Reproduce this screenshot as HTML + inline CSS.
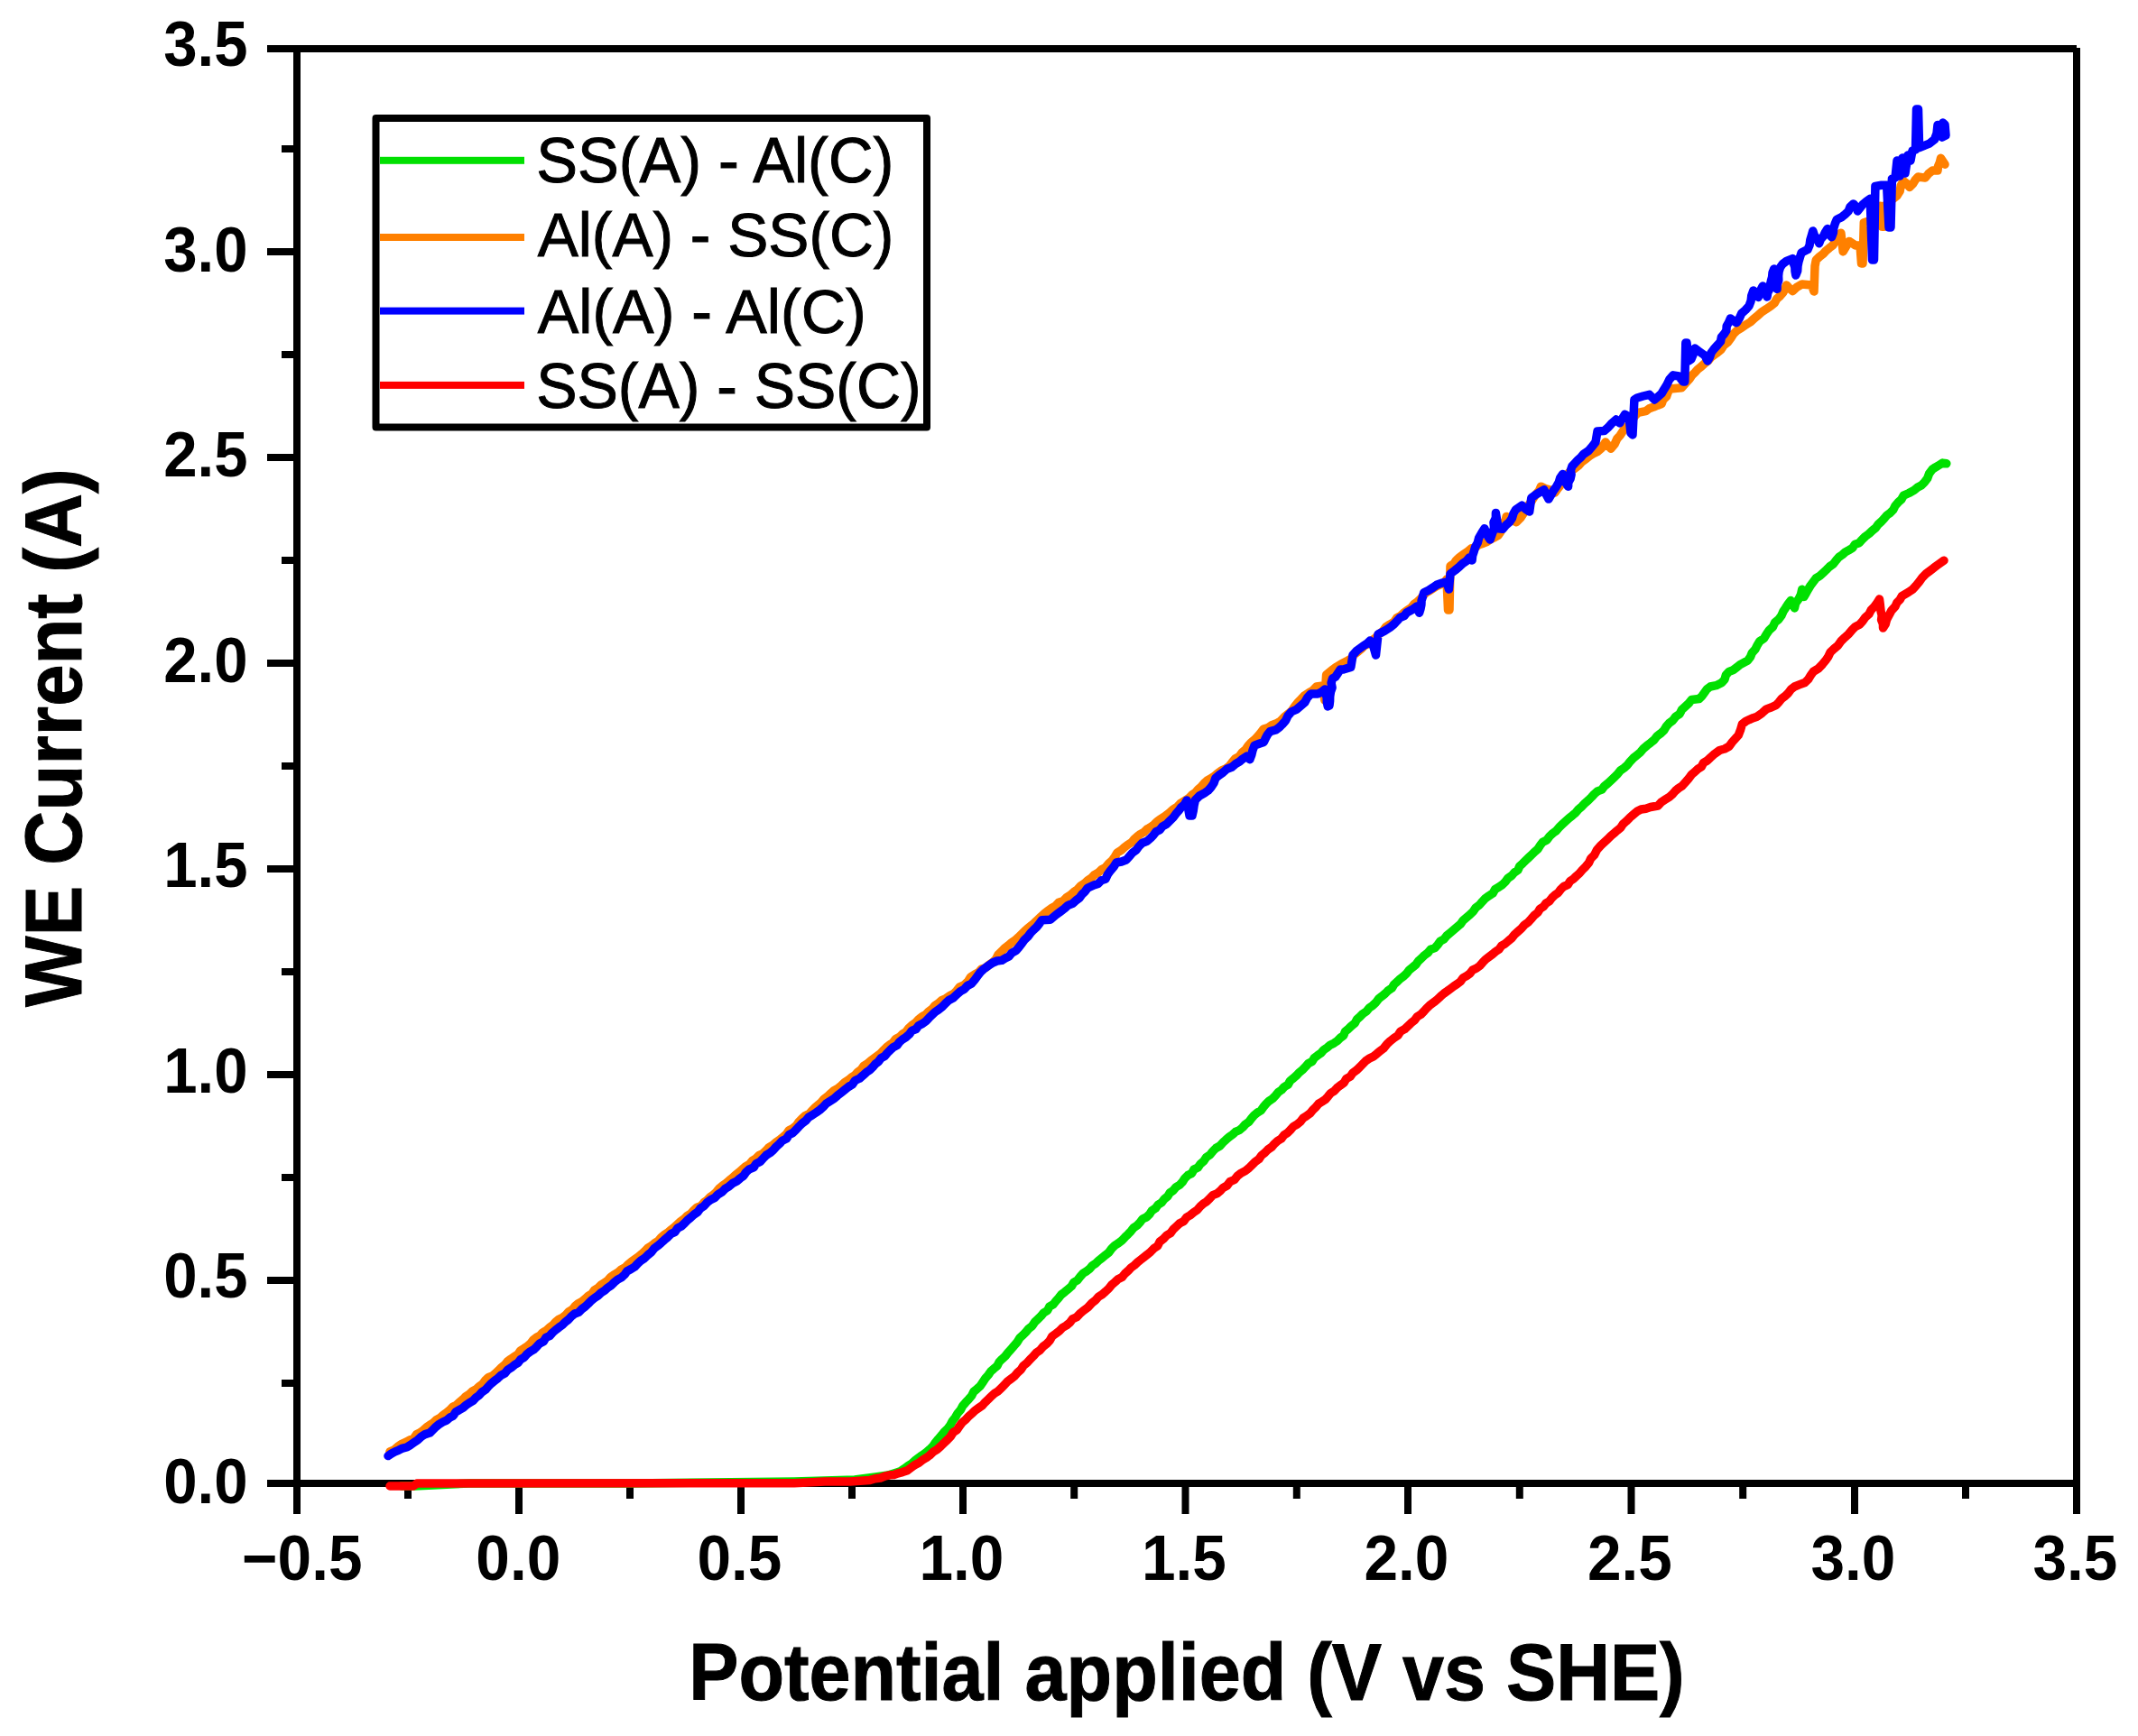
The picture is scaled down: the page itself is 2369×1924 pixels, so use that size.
<!DOCTYPE html>
<html><head><meta charset="utf-8"><title>WE Current vs Potential</title>
<style>html,body{margin:0;padding:0;background:#fff;}svg{display:block;}</style>
</head><body>
<svg xmlns="http://www.w3.org/2000/svg" width="2369" height="1924" viewBox="0 0 2369 1924">
<rect x="0" y="0" width="2369" height="1924" fill="#fff"/>
<g fill="#000">
<rect x="325" y="50" width="8" height="1628"/>
<rect x="296" y="1640" width="2009" height="8"/>
<rect x="296" y="50" width="2005" height="8"/>
<rect x="2297" y="53" width="8" height="1625"/>
<rect x="296" y="1415.0" width="30" height="8"/>
<rect x="296" y="1187.0" width="30" height="8"/>
<rect x="296" y="959.0" width="30" height="8"/>
<rect x="296" y="731.0" width="30" height="8"/>
<rect x="296" y="503.0" width="30" height="8"/>
<rect x="296" y="275.0" width="30" height="8"/>
<rect x="312" y="1529.0" width="14" height="8"/>
<rect x="312" y="1301.0" width="14" height="8"/>
<rect x="312" y="1073.0" width="14" height="8"/>
<rect x="312" y="845.0" width="14" height="8"/>
<rect x="312" y="617.0" width="14" height="8"/>
<rect x="312" y="389.0" width="14" height="8"/>
<rect x="312" y="161.0" width="14" height="8"/>
<rect x="571.0" y="1647" width="8" height="31"/>
<rect x="817.0" y="1647" width="8" height="31"/>
<rect x="1063.0" y="1647" width="8" height="31"/>
<rect x="1309.5" y="1647" width="8" height="31"/>
<rect x="1556.0" y="1647" width="8" height="31"/>
<rect x="1803.5" y="1647" width="8" height="31"/>
<rect x="2051.0" y="1647" width="8" height="31"/>
<rect x="448.0" y="1647" width="8" height="14"/>
<rect x="694.0" y="1647" width="8" height="14"/>
<rect x="940.0" y="1647" width="8" height="14"/>
<rect x="1186.2" y="1647" width="8" height="14"/>
<rect x="1432.8" y="1647" width="8" height="14"/>
<rect x="1679.8" y="1647" width="8" height="14"/>
<rect x="1927.2" y="1647" width="8" height="14"/>
<rect x="2174.0" y="1647" width="8" height="14"/>
</g>
<path d="M445.0,1647.0 459.0,1647.0 480.0,1646.0 520.0,1644.0 700.0,1644.0 880.0,1642.0 947.0,1640.0 970.0,1637.0 984.0,1635.0 988.7,1633.5 993.4,1632.2 998.0,1630.5 1002.0,1627.7 1005.9,1624.8 1010.0,1622.2 1013.8,1618.8 1017.8,1615.6 1022.0,1612.8 1026.1,1609.8 1030.0,1606.5 1033.6,1602.9 1036.5,1598.7 1039.7,1594.8 1043.1,1591.0 1046.3,1587.0 1050.0,1583.5 1052.9,1579.4 1055.3,1574.9 1058.5,1570.9 1061.0,1566.5 1064.3,1562.7 1066.7,1558.1 1070.0,1554.3 1073.4,1550.7 1076.6,1547.0 1078.8,1542.5 1082.6,1539.3 1086.3,1535.9 1089.1,1531.8 1091.8,1527.7 1095.0,1524.0 1097.7,1520.1 1101.2,1516.9 1104.9,1513.9 1107.1,1509.5 1110.4,1506.2 1113.9,1503.0 1116.8,1499.3 1120.0,1495.8 1123.5,1491.6 1127.1,1487.5 1130.0,1482.8 1133.6,1479.5 1136.9,1476.1 1140.0,1472.4 1143.8,1469.4 1146.5,1465.3 1150.0,1462.0 1153.4,1458.7 1156.4,1455.0 1160.6,1452.5 1162.8,1448.1 1167.1,1445.6 1170.0,1441.9 1173.2,1438.3 1176.2,1434.6 1180.0,1431.7 1183.7,1428.6 1187.3,1425.5 1189.8,1421.3 1194.0,1418.7 1196.9,1414.9 1200.0,1411.3 1204.0,1408.9 1207.6,1406.0 1210.6,1402.4 1214.5,1399.9 1217.8,1396.7 1221.5,1393.9 1225.0,1390.9 1228.8,1387.9 1231.7,1383.9 1235.2,1380.4 1239.3,1377.7 1243.2,1374.7 1246.5,1371.2 1250.0,1367.8 1253.2,1364.4 1256.1,1360.7 1260.0,1358.1 1263.2,1354.8 1266.0,1351.0 1270.5,1348.9 1273.8,1345.6 1276.4,1341.7 1280.4,1339.1 1283.2,1335.3 1287.2,1332.8 1290.0,1329.0 1293.7,1326.1 1296.2,1322.0 1300.1,1319.3 1303.0,1315.7 1307.1,1313.2 1310.3,1309.9 1312.9,1305.8 1316.2,1302.6 1320.5,1300.4 1322.9,1296.1 1327.3,1294.0 1330.0,1290.1 1333.8,1286.9 1336.6,1282.7 1340.7,1279.9 1343.8,1276.0 1347.3,1272.5 1351.7,1270.0 1355.0,1266.3 1358.4,1263.2 1361.9,1260.2 1365.6,1257.5 1369.0,1254.4 1373.4,1252.5 1376.9,1249.5 1380.0,1246.0 1383.8,1243.3 1386.6,1239.6 1389.6,1236.1 1393.2,1233.1 1397.2,1230.7 1399.9,1226.9 1402.9,1223.4 1406.2,1220.2 1410.1,1217.6 1413.3,1214.3 1416.2,1210.7 1420.0,1208.0 1423.1,1204.5 1427.2,1202.1 1429.5,1197.9 1433.1,1195.0 1436.6,1191.9 1439.7,1188.6 1443.3,1185.6 1446.5,1182.3 1449.5,1178.8 1453.8,1176.6 1456.3,1172.5 1460.0,1169.7 1463.7,1167.1 1466.7,1163.6 1470.4,1161.1 1473.9,1158.2 1478.0,1156.2 1481.8,1153.6 1485.0,1150.4 1488.7,1147.6 1490.6,1143.1 1494.2,1140.2 1497.5,1137.0 1501.2,1134.1 1503.4,1129.9 1506.8,1126.9 1510.0,1123.6 1514.1,1120.9 1517.1,1117.1 1521.1,1114.3 1524.6,1111.0 1527.5,1107.1 1531.3,1104.1 1535.0,1101.0 1538.3,1097.7 1542.3,1095.1 1544.7,1091.0 1548.3,1087.9 1551.6,1084.7 1555.4,1081.9 1558.8,1078.6 1561.6,1074.9 1565.3,1072.0 1568.9,1069.0 1571.6,1065.1 1575.1,1062.0 1578.4,1058.7 1582.2,1055.9 1585.2,1052.3 1589.9,1050.6 1593.0,1047.1 1595.9,1043.2 1600.0,1040.9 1603.1,1037.0 1606.9,1033.8 1610.7,1030.6 1614.5,1027.4 1618.3,1024.2 1621.2,1020.1 1625.0,1016.9 1628.8,1013.7 1632.4,1010.2 1635.2,1006.0 1639.2,1003.0 1642.5,999.2 1645.9,995.6 1650.0,992.7 1654.1,990.1 1656.6,985.7 1660.8,983.2 1664.7,980.5 1668.1,977.1 1671.0,973.2 1675.0,970.5 1678.0,967.0 1681.9,964.4 1683.8,960.0 1687.2,956.9 1690.5,953.7 1693.8,950.5 1697.1,947.3 1700.4,944.1 1703.9,941.1 1706.4,937.2 1709.5,933.2 1714.0,930.9 1717.0,926.9 1720.6,923.5 1724.6,920.6 1727.8,916.7 1731.4,913.3 1735.0,910.0 1738.6,906.7 1742.4,903.7 1746.1,900.6 1749.2,896.8 1753.0,893.6 1756.3,890.1 1760.0,886.9 1763.4,883.5 1766.6,880.0 1770.2,876.9 1774.9,875.1 1777.8,871.2 1781.5,868.2 1785.0,865.0 1788.7,861.6 1792.2,857.9 1795.4,854.0 1799.6,851.1 1803.4,847.7 1806.5,843.7 1810.0,840.0 1813.9,836.8 1817.8,833.6 1821.1,829.6 1824.9,826.3 1829.0,823.2 1832.9,820.0 1835.9,816.0 1840.0,812.9 1843.7,809.5 1846.3,805.1 1849.6,801.3 1853.7,798.3 1856.8,794.1 1861.2,791.2 1863.6,786.5 1867.4,783.0 1871.2,779.5 1874.4,775.5 1882.7,774.5 1886.0,771.3 1888.7,767.5 1891.4,763.8 1895.1,761.0 1901.6,759.7 1907.6,756.8 1911.0,753.1 1912.4,748.0 1915.9,744.4 1920.4,742.6 1924.4,739.7 1928.1,736.6 1932.3,734.3 1936.6,732.0 1939.5,728.1 1941.4,723.4 1944.8,719.8 1947.0,715.4 1949.8,710.7 1954.5,707.6 1957.3,702.9 1960.3,698.5 1964.3,694.9 1966.6,689.9 1970.8,686.5 1973.9,682.2 1975.9,677.7 1978.6,673.6 1981.2,669.4 1984.3,665.6 1986.5,669.7 1988.4,673.9 1989.7,668.4 1993.1,663.8 1995.5,658.7 1996.7,653.2 1998.8,661.5 2001.3,657.3 2003.7,653.0 2006.2,648.8 2009.2,644.9 2012.2,640.9 2016.4,638.3 2020.0,635.0 2023.6,631.6 2027.2,628.0 2031.3,625.1 2034.4,621.1 2037.5,617.5 2041.3,614.9 2044.7,611.9 2048.8,609.6 2052.8,607.2 2055.5,603.2 2060.1,601.7 2063.2,598.1 2066.9,594.5 2071.0,591.5 2074.7,588.0 2078.4,585.0 2081.2,581.1 2084.8,577.9 2087.9,574.5 2090.8,571.0 2094.6,568.3 2097.8,565.0 2100.0,560.5 2103.2,556.8 2106.9,553.4 2109.3,549.1 2115.2,546.5 2120.8,543.4 2124.5,540.3 2128.8,538.1 2132.3,534.7 2135.7,530.2 2137.6,524.8 2141.0,520.3 2144.7,517.8 2148.6,515.5 2152.5,513.1 2156.8,513.8" fill="none" stroke="#00e000" stroke-width="9.5" stroke-linejoin="round" stroke-linecap="round"/>
<path d="M432.0,1608.9 436.8,1606.8 440.8,1603.2 445.2,1600.3 450.0,1598.2 454.6,1595.7 458.7,1593.7 461.5,1589.8 465.5,1587.7 469.1,1585.0 472.5,1581.9 476.2,1579.3 480.0,1576.9 483.4,1573.7 487.5,1571.5 491.0,1568.4 494.8,1565.7 498.4,1562.7 501.6,1559.3 505.8,1557.2 509.2,1553.9 512.8,1551.0 516.1,1547.7 520.0,1545.1 523.4,1541.9 527.6,1539.7 531.0,1536.6 534.8,1533.8 537.6,1529.9 541.0,1526.7 545.5,1524.9 549.1,1522.0 552.5,1518.8 555.8,1515.4 559.4,1512.5 562.4,1508.9 566.1,1506.1 570.0,1503.5 573.9,1501.0 576.5,1497.0 580.5,1494.6 584.4,1492.1 587.8,1489.0 590.6,1485.3 594.2,1482.5 598.3,1480.2 601.4,1476.8 605.5,1474.5 608.8,1471.3 612.5,1468.6 615.6,1465.2 619.2,1462.3 623.4,1460.2 626.9,1457.3 630.0,1453.8 634.1,1451.4 637.1,1447.7 640.7,1444.7 644.9,1442.5 648.5,1439.5 651.9,1436.3 655.9,1433.8 658.7,1429.8 662.7,1427.4 666.0,1424.0 670.0,1421.5 673.8,1418.7 676.9,1415.1 680.8,1412.5 684.9,1410.0 688.5,1406.9 692.7,1404.7 696.0,1401.3 699.6,1398.3 703.4,1395.6 707.3,1392.9 710.9,1389.9 714.4,1386.7 717.7,1383.3 721.7,1380.8 725.3,1377.8 729.4,1375.3 732.5,1371.6 736.0,1368.5 740.0,1366.0 743.6,1362.9 747.3,1360.0 750.8,1356.8 754.3,1353.6 758.1,1350.8 761.5,1347.5 765.6,1344.9 768.7,1341.4 772.2,1338.1 776.9,1336.4 780.0,1332.7 783.7,1330.0 786.8,1326.6 790.7,1324.0 794.0,1320.8 796.9,1317.1 800.5,1314.2 804.2,1311.5 807.7,1308.5 811.5,1305.5 815.0,1302.2 818.8,1299.2 822.4,1296.0 826.0,1292.9 830.3,1290.5 833.4,1286.6 837.5,1284.1 840.9,1280.6 845.3,1278.5 848.8,1275.1 852.1,1271.5 856.3,1269.1 860.0,1266.0 864.0,1263.2 867.7,1260.1 871.4,1256.9 874.2,1252.8 878.7,1250.5 882.4,1247.4 885.2,1243.3 888.6,1239.8 892.2,1236.5 896.8,1234.4 900.0,1230.7 903.1,1227.4 906.7,1224.6 910.1,1221.6 913.0,1218.1 916.7,1215.4 920.0,1212.3 923.7,1208.9 928.2,1206.4 932.1,1203.3 935.8,1199.8 940.0,1197.0 943.5,1194.0 947.5,1191.5 950.6,1188.0 954.3,1185.2 957.1,1181.3 961.1,1178.9 964.6,1175.9 968.3,1173.1 972.0,1170.3 975.7,1167.5 978.9,1164.1 982.2,1160.8 985.8,1157.9 989.6,1155.3 992.4,1151.4 996.7,1149.3 1000.0,1146.0 1004.1,1143.4 1007.0,1139.4 1010.5,1136.2 1014.5,1133.5 1017.7,1129.9 1021.4,1126.9 1025.7,1124.5 1029.0,1121.0 1032.9,1118.2 1035.9,1114.4 1040.0,1111.8 1043.6,1108.5 1048.2,1106.5 1052.2,1103.8 1056.5,1101.5 1060.0,1098.0 1063.4,1093.8 1068.6,1091.5 1072.5,1087.7 1075.4,1083.0 1080.0,1080.0 1084.3,1077.7 1087.6,1074.0 1092.3,1072.4 1095.9,1069.2 1100.0,1066.6 1103.7,1062.7 1106.1,1057.9 1110.0,1054.2 1113.3,1050.7 1117.2,1047.8 1120.9,1044.7 1124.9,1042.0 1128.4,1038.8 1131.9,1035.4 1135.3,1032.0 1138.9,1028.8 1142.7,1025.9 1146.3,1022.7 1149.8,1019.3 1153.3,1016.0 1156.9,1012.8 1160.7,1009.8 1164.8,1006.7 1169.4,1004.2 1172.9,1000.3 1178.1,998.6 1181.7,994.8 1186.0,992.0 1189.7,988.7 1193.8,985.8 1197.1,982.0 1201.3,979.4 1205.0,976.0 1209.1,973.2 1212.6,969.6 1217.0,967.1 1220.6,963.7 1225.0,961.3 1228.3,957.3 1232.2,953.7 1235.3,949.5 1238.0,945.0 1242.3,942.4 1246.0,939.0 1250.0,936.0 1253.9,933.7 1256.8,930.1 1260.2,927.1 1263.8,924.3 1267.8,922.1 1271.0,918.9 1275.0,916.7 1278.6,913.9 1281.9,910.8 1285.5,908.0 1289.4,905.6 1293.1,903.0 1296.6,900.1 1300.0,897.0 1304.4,894.2 1308.1,890.3 1312.6,887.6 1317.0,884.8 1320.7,881.0 1324.6,878.4 1327.6,874.9 1331.1,871.9 1334.1,868.3 1337.5,865.1 1341.5,862.7 1345.8,860.1 1349.5,856.8 1353.6,853.9 1358.3,852.0 1362.2,848.8 1365.3,844.8 1368.5,840.9 1373.2,838.3 1376.1,834.2 1380.0,830.9 1382.9,826.7 1386.3,822.9 1390.2,819.7 1393.7,816.0 1397.0,812.1 1400.0,808.0 1404.9,806.6 1409.1,803.8 1413.8,802.0 1419.0,799.0 1423.0,794.7 1427.6,791.0 1431.6,787.5 1434.6,783.0 1437.8,778.8 1441.5,775.0 1445.3,770.9 1450.0,767.9 1454.9,765.1 1458.7,761.0 1466.0,760.0 1467.8,776.0 1469.6,748.0 1476.0,742.6 1481.1,739.0 1486.4,735.7 1491.7,733.1 1496.8,730.2 1500.4,725.6 1505.0,722.0 1508.6,718.9 1512.0,715.4 1516.7,713.6 1520.0,710.0 1524.3,706.7 1528.0,702.8 1532.3,699.5 1535.5,695.0 1540.0,692.0 1544.5,689.4 1547.6,685.0 1552.1,682.5 1555.8,678.9 1560.0,676.0 1563.8,673.4 1566.7,669.7 1570.4,667.0 1573.9,663.9 1576.8,660.3 1580.0,657.0 1583.9,654.6 1587.8,652.2 1591.7,649.8 1595.8,647.9 1600.0,646.0 1603.0,642.0 1604.5,676.0 1606.0,676.0 1607.0,627.4 1611.0,624.9 1613.6,620.9 1617.0,617.8 1620.7,615.0 1625.6,611.8 1630.0,608.0 1634.8,606.9 1638.8,603.6 1643.5,602.2 1647.8,600.3 1651.7,597.6 1656.0,595.6 1660.1,593.3 1662.7,589.5 1664.3,585.2 1665.0,580.6 1668.1,577.0 1669.1,572.5 1674.4,576.0 1680.2,578.7 1684.9,574.0 1688.5,568.4 1691.2,564.2 1693.6,559.9 1696.7,555.9 1699.3,551.7 1702.1,547.6 1705.4,543.8 1707.4,539.2 1712.5,541.5 1718.1,543.0 1722.9,546.1 1725.7,542.0 1728.7,538.2 1731.3,534.0 1733.9,529.8 1736.8,525.8 1740.0,522.0 1744.8,519.3 1749.1,516.0 1752.8,511.9 1757.3,508.7 1761.0,505.6 1765.0,503.0 1770.2,500.5 1774.6,496.6 1779.0,490.0 1781.8,493.7 1784.9,497.2 1789.1,492.2 1791.8,486.2 1795.1,482.6 1797.7,478.6 1800.5,474.7 1804.0,471.8 1806.5,467.9 1809.3,464.5 1811.8,460.7 1814.9,457.4 1823.5,455.7 1827.5,452.7 1832.2,451.1 1836.7,449.2 1841.2,447.5 1842.8,443.0 1846.5,439.6 1848.1,435.0 1850.7,431.0 1863.4,429.7 1867.6,424.8 1872.0,420.0 1874.6,416.1 1878.0,412.9 1881.1,409.4 1885.1,406.2 1888.9,402.7 1893.0,399.5 1896.3,395.5 1901.7,391.7 1906.9,387.5 1910.0,382.9 1914.4,379.3 1917.7,374.9 1920.7,370.2 1924.9,366.1 1929.9,363.1 1934.6,359.8 1939.4,357.0 1943.4,353.2 1947.7,349.8 1951.8,346.0 1957.1,342.6 1962.2,339.1 1966.2,335.8 1968.8,331.2 1972.7,327.8 1976.0,323.9 1979.5,316.0 1982.7,319.5 1986.4,322.5 1991.2,318.1 1996.8,314.9 2007.4,315.9 2010.0,323.0 2011.0,295.0 2012.3,288.2 2016.1,284.5 2020.3,281.2 2023.4,277.8 2027.0,274.8 2030.7,272.0 2033.8,267.4 2036.5,262.6 2039.9,258.2 2042.2,278.9 2045.6,273.1 2049.1,267.4 2056.0,272.0 2061.0,272.0 2062.5,292.0 2064.0,292.0 2065.3,246.7 2072.2,244.4 2075.4,240.6 2078.5,236.7 2080.8,232.3 2083.7,228.2 2085.5,251.3 2087.5,251.3 2088.3,228.2 2093.0,224.4 2097.4,220.5 2102.1,216.7 2105.2,211.7 2106.2,205.7 2109.0,200.6 2113.0,203.5 2115.9,207.5 2119.4,204.0 2122.0,199.7 2125.2,196.0 2133.2,197.1 2136.8,192.6 2141.3,189.1 2147.0,189.1 2147.5,184.3 2149.4,179.9 2150.5,175.3 2155.0,182.2" fill="none" stroke="#ff8000" stroke-width="9.5" stroke-linejoin="round" stroke-linecap="round"/>
<path d="M430.0,1613.6 433.8,1611.0 437.8,1608.9 442.1,1607.1 446.1,1605.1 450.7,1604.0 454.6,1601.6 458.8,1598.7 463.0,1595.8 466.8,1592.3 471.1,1589.6 476.3,1588.0 480.0,1584.4 483.2,1581.2 486.8,1578.3 490.7,1576.0 494.9,1574.1 498.4,1571.2 502.3,1569.0 505.0,1564.9 508.9,1562.6 512.9,1560.4 516.3,1557.4 520.0,1554.8 524.1,1552.4 527.3,1549.0 531.1,1546.2 534.2,1542.7 538.1,1540.1 541.2,1536.5 544.5,1533.2 548.1,1530.3 551.8,1527.4 555.2,1524.2 559.5,1522.0 562.5,1518.3 566.4,1515.8 570.0,1512.8 574.0,1510.4 576.9,1506.6 580.9,1504.3 583.9,1500.7 587.6,1497.9 591.6,1495.6 594.9,1492.3 598.0,1488.9 602.3,1486.7 604.8,1482.6 609.1,1480.5 612.2,1477.0 615.7,1474.0 619.3,1471.2 623.1,1468.5 626.3,1465.2 630.0,1462.4 633.2,1458.9 636.8,1456.0 641.4,1454.3 644.6,1450.9 648.4,1448.1 651.8,1444.9 655.1,1441.5 658.7,1438.6 662.6,1436.0 666.0,1432.8 670.0,1430.3 673.5,1427.1 677.4,1424.5 680.7,1421.1 684.4,1418.1 688.6,1415.9 692.1,1412.6 695.0,1408.7 699.2,1406.5 703.3,1404.0 706.5,1400.5 710.0,1397.3 714.2,1394.5 717.7,1391.0 721.6,1387.8 724.7,1383.8 728.7,1380.8 732.5,1377.6 736.2,1374.2 740.0,1371.0 743.4,1367.6 747.9,1365.4 750.6,1361.3 755.0,1359.0 758.5,1355.7 761.8,1352.2 765.5,1349.2 769.1,1346.0 773.1,1343.3 776.0,1339.3 780.0,1336.6 783.4,1332.8 787.4,1329.8 792.0,1327.5 795.5,1323.8 799.9,1321.2 803.4,1317.6 807.7,1314.9 811.6,1311.6 816.1,1309.3 820.0,1306.0 823.9,1303.1 826.7,1299.0 830.3,1295.8 835.1,1293.9 837.8,1289.7 842.3,1287.5 845.6,1283.9 848.9,1280.4 853.1,1277.8 856.8,1274.6 860.0,1271.0 863.6,1267.8 866.9,1264.2 871.4,1262.0 874.2,1257.8 878.6,1255.5 882.0,1252.1 885.3,1248.5 888.7,1245.1 892.7,1242.2 895.8,1238.4 900.0,1235.9 904.2,1233.1 908.4,1230.1 912.2,1226.7 915.7,1222.9 920.0,1220.2 924.3,1217.5 928.1,1214.1 932.1,1211.0 936.1,1207.8 940.0,1204.6 944.4,1201.9 947.5,1197.5 952.3,1195.3 956.2,1191.9 960.0,1188.4 963.8,1185.8 967.0,1182.7 969.9,1179.2 973.5,1176.4 976.2,1172.7 980.3,1170.6 983.2,1167.0 986.4,1163.8 989.7,1160.7 993.9,1158.6 996.6,1154.9 1000.0,1152.0 1004.0,1149.4 1007.5,1146.3 1010.4,1142.4 1015.0,1140.5 1017.9,1136.7 1022.2,1134.5 1026.0,1131.7 1029.3,1128.2 1032.7,1124.9 1036.1,1121.6 1040.0,1119.0 1044.1,1115.8 1047.7,1112.0 1051.5,1108.4 1056.2,1106.0 1060.0,1102.4 1063.8,1098.9 1068.4,1096.4 1071.9,1092.5 1076.6,1090.0 1080.0,1086.0 1083.1,1081.8 1086.2,1077.6 1090.0,1074.0 1095.0,1070.4 1100.0,1067.0 1104.8,1065.0 1110.0,1064.4 1113.9,1062.0 1118.0,1060.0 1121.2,1056.1 1125.7,1053.6 1129.0,1049.8 1132.1,1045.9 1135.0,1041.7 1138.7,1038.3 1141.7,1034.3 1145.1,1030.8 1148.6,1027.5 1151.6,1023.7 1154.4,1019.7 1163.9,1019.2 1170.0,1014.0 1174.9,1010.4 1179.7,1006.8 1183.5,1003.3 1188.5,1001.3 1192.4,997.9 1196.1,995.1 1198.9,991.3 1202.3,988.1 1205.0,984.3 1212.0,981.0 1216.7,979.5 1220.3,975.8 1225.0,974.3 1227.3,969.3 1230.5,964.8 1234.1,960.6 1237.0,956.0 1242.6,955.0 1248.0,953.0 1251.4,949.1 1254.7,945.2 1258.9,942.1 1262.0,938.0 1265.8,934.2 1271.0,932.3 1275.0,928.8 1278.1,925.5 1280.9,921.8 1285.2,919.7 1288.0,916.0 1292.6,913.3 1296.3,909.7 1300.0,906.0 1302.8,902.2 1305.9,898.7 1308.7,894.9 1312.3,891.8 1315.0,887.0 1318.0,904.0 1321.0,904.0 1322.3,898.2 1323.1,892.4 1324.4,886.6 1329.1,882.0 1334.8,878.8 1338.6,876.2 1341.7,872.8 1345.0,867.9 1346.9,862.4 1351.0,859.0 1355.3,856.0 1359.5,852.3 1364.8,850.3 1369.1,846.7 1373.4,844.2 1377.2,840.9 1381.4,838.2 1384.9,841.7 1386.8,836.5 1388.1,831.2 1390.1,826.1 1395.2,824.2 1400.4,822.4 1402.3,818.2 1404.4,814.2 1407.4,810.6 1413.8,808.9 1417.5,806.2 1420.7,803.0 1424.6,798.6 1427.1,793.2 1431.1,788.8 1436.8,786.2 1441.5,782.2 1445.8,778.4 1448.6,773.3 1452.5,769.1 1460.1,769.0 1464.3,766.9 1468.0,764.0 1468.9,768.7 1470.2,773.3 1470.3,778.2 1471.3,782.9 1473.0,782.0 1473.6,777.0 1473.7,771.9 1474.4,767.0 1476.1,762.1 1475.1,756.9 1476.5,752.0 1479.5,750.4 1482.4,746.3 1485.1,742.0 1488.5,742.0 1496.8,739.4 1499.0,726.0 1503.5,721.0 1510.4,716.0 1514.6,713.4 1518.0,710.0 1522.0,717.0 1524.5,726.0 1527.0,703.0 1534.6,699.0 1540.0,695.6 1544.9,691.5 1548.1,688.1 1551.2,684.6 1555.8,682.7 1558.7,679.0 1564.6,675.8 1570.0,672.0 1572.6,679.2 1574.0,674.8 1574.9,670.3 1575.1,665.6 1576.5,661.1 1577.8,656.7 1582.9,654.2 1587.4,651.4 1591.8,648.3 1596.8,646.4 1603.0,645.0 1605.4,653.0 1607.0,636.0 1612.3,632.0 1617.3,627.8 1620.8,624.5 1624.9,621.8 1628.0,618.0 1631.1,621.0 1631.6,616.0 1633.2,611.2 1634.6,606.4 1637.3,601.5 1638.7,596.0 1641.7,590.8 1644.9,585.7 1646.5,590.1 1648.5,594.2 1651.1,598.1 1654.0,590.0 1655.5,584.7 1655.0,579.1 1657.4,573.9 1657.4,568.4 1660.1,585.7 1665.0,586.3 1668.5,582.2 1672.6,578.7 1675.4,574.4 1676.9,569.3 1679.5,564.9 1686.4,560.1 1690.2,564.0 1694.7,567.0 1696.8,551.8 1701.3,548.5 1706.0,545.6 1710.8,542.7 1713.2,548.0 1716.0,553.1 1718.8,548.4 1721.4,543.6 1724.6,539.2 1727.2,534.7 1728.7,529.7 1731.6,525.4 1734.3,529.7 1734.9,534.9 1737.6,539.2 1737.8,534.6 1740.1,530.4 1741.1,525.9 1740.4,521.2 1741.9,516.8 1745.0,513.4 1748.1,510.1 1751.5,507.0 1754.4,503.5 1759.9,499.8 1764.2,494.9 1768.0,490.0 1770.0,478.0 1777.4,477.6 1782.0,473.6 1786.1,469.0 1790.7,465.0 1794.7,469.0 1797.5,464.0 1800.5,459.2 1805.0,462.0 1807.0,480.0 1809.0,482.0 1810.9,443.0 1814.0,441.0 1820.6,439.0 1827.6,437.3 1833.3,443.0 1837.9,439.0 1841.2,436.0 1844.0,431.2 1846.9,426.5 1849.7,420.7 1853.9,415.8 1860.2,417.0 1865.0,423.0 1866.8,423.0 1867.8,380.0 1869.0,380.0 1871.0,400.0 1874.0,398.0 1876.4,392.1 1878.0,386.0 1882.0,389.0 1889.0,394.0 1892.0,400.0 1894.5,395.8 1896.0,391.0 1899.0,387.0 1903.5,382.0 1906.5,378.5 1907.4,373.7 1910.4,370.2 1912.9,366.2 1913.2,361.3 1915.5,357.3 1917.3,353.0 1924.2,357.7 1927.3,352.7 1929.7,347.4 1934.1,343.5 1938.0,339.1 1940.1,333.5 1940.8,327.6 1942.8,322.0 1945.9,325.4 1948.4,329.4 1950.1,322.9 1953.2,317.0 1955.3,323.1 1958.0,329.0 1958.7,324.5 1960.8,320.3 1961.4,315.7 1962.4,311.3 1963.6,306.9 1964.0,302.3 1965.7,298.0 1966.3,302.5 1967.6,306.8 1968.5,311.3 1967.8,315.9 1969.1,320.3 1969.2,315.4 1970.8,310.7 1970.6,305.8 1971.1,301.0 1972.6,296.3 1975.5,292.3 1979.5,289.4 1986.4,286.6 1987.1,291.2 1988.8,295.7 1989.0,300.4 1989.8,305.0 1991.7,300.2 1992.0,294.9 1993.0,289.9 1994.5,284.9 1996.1,280.0 2003.0,276.6 2005.1,271.6 2005.8,266.2 2007.3,261.1 2008.8,255.9 2010.4,260.9 2013.4,265.1 2015.7,269.7 2017.3,265.3 2020.5,261.7 2022.4,257.5 2024.9,253.6 2026.8,258.4 2029.5,262.8 2031.3,258.0 2031.8,252.8 2033.3,247.9 2035.3,243.2 2040.2,240.9 2044.5,237.5 2048.1,234.1 2050.0,229.2 2053.7,225.9 2056.7,229.5 2058.3,234.0 2061.1,230.3 2064.0,226.6 2067.6,223.6 2072.2,220.2 2074.5,288.0 2076.5,288.0 2077.9,206.4 2084.8,205.2 2090.6,205.2 2093.0,252.0 2095.0,252.0 2096.4,198.3 2100.0,197.0 2102.0,178.0 2105.0,195.0 2108.0,175.0 2111.0,192.0 2114.0,172.0 2117.0,178.0 2119.0,167.0 2122.5,166.0 2123.5,121.0 2125.5,121.0 2126.6,163.7 2132.2,161.3 2137.8,159.1 2143.6,154.5 2146.0,148.0 2147.0,138.4 2150.0,141.0 2152.8,136.1 2155.0,138.0 2156.0,150.0 2152.0,152.0 2149.0,147.0 2151.0,142.0 2154.0,146.0" fill="none" stroke="#0000ff" stroke-width="9.5" stroke-linejoin="round" stroke-linecap="round"/>
<path d="M432.0,1647.0 458.0,1647.0 462.0,1644.0 850.0,1643.7 880.0,1643.8 914.0,1642.0 942.0,1642.0 964.0,1640.4 969.7,1638.8 975.5,1638.0 981.0,1635.8 985.8,1634.8 990.6,1634.4 995.3,1632.8 1000.0,1631.6 1005.4,1629.7 1010.0,1626.3 1013.9,1623.4 1018.2,1621.2 1022.0,1618.3 1026.1,1615.8 1030.0,1613.0 1033.8,1609.3 1038.4,1606.4 1042.4,1602.9 1046.2,1599.2 1050.0,1595.5 1053.4,1591.9 1056.1,1587.6 1060.4,1584.8 1063.1,1580.6 1066.1,1576.6 1070.0,1573.4 1073.2,1569.8 1076.9,1566.7 1080.3,1563.3 1084.3,1560.5 1088.3,1557.8 1091.5,1554.2 1095.0,1550.9 1098.4,1547.5 1102.0,1544.3 1106.1,1541.7 1109.5,1538.3 1112.9,1534.9 1116.1,1531.3 1120.0,1528.4 1124.1,1525.3 1127.4,1521.4 1131.2,1518.0 1134.0,1513.6 1138.0,1510.4 1141.4,1506.6 1145.0,1503.0 1148.4,1499.2 1152.5,1496.3 1155.8,1492.4 1159.9,1489.3 1163.3,1485.6 1165.8,1481.0 1170.0,1478.0 1173.9,1475.0 1177.3,1471.5 1181.6,1469.0 1185.4,1465.9 1188.4,1461.9 1193.0,1459.8 1196.3,1456.2 1200.0,1453.0 1205.4,1449.0 1210.0,1444.0 1213.9,1441.0 1217.1,1437.2 1221.3,1434.6 1225.0,1431.4 1228.5,1428.1 1231.6,1424.2 1235.3,1421.0 1238.8,1417.7 1243.3,1415.5 1246.4,1411.6 1250.0,1408.4 1253.2,1405.0 1257.0,1402.2 1260.4,1399.0 1264.0,1396.1 1267.7,1393.2 1271.4,1390.3 1275.0,1387.3 1278.5,1383.7 1282.7,1380.8 1285.1,1376.1 1289.2,1373.0 1292.5,1369.3 1297.0,1366.6 1300.0,1362.5 1303.6,1359.1 1307.2,1355.7 1311.7,1353.4 1314.7,1349.3 1318.9,1346.7 1322.7,1343.6 1326.8,1340.8 1330.0,1337.0 1333.4,1333.9 1337.3,1331.4 1340.6,1328.1 1343.8,1324.7 1348.3,1322.9 1351.9,1320.1 1355.0,1316.6 1359.6,1314.0 1362.9,1309.7 1367.8,1307.5 1371.2,1303.3 1375.3,1300.1 1380.0,1297.6 1383.9,1294.5 1387.3,1291.1 1390.8,1287.6 1394.9,1284.7 1397.7,1280.6 1401.6,1277.5 1405.0,1274.0 1409.0,1271.3 1412.1,1267.7 1415.6,1264.5 1419.7,1262.0 1422.7,1258.1 1426.7,1255.5 1430.0,1252.1 1433.1,1248.5 1437.3,1246.1 1440.9,1243.1 1443.8,1239.3 1447.8,1236.7 1451.6,1233.9 1454.6,1230.2 1458.0,1227.0 1460.9,1223.4 1464.8,1221.0 1468.6,1218.5 1471.6,1215.1 1474.5,1211.5 1478.4,1209.2 1481.4,1205.8 1485.0,1203.0 1489.1,1200.2 1491.7,1195.7 1496.1,1193.2 1499.0,1189.1 1503.0,1186.2 1506.6,1182.8 1510.0,1179.2 1513.4,1175.7 1517.4,1173.1 1521.7,1170.9 1525.5,1167.9 1529.1,1164.8 1533.0,1162.0 1537.0,1157.0 1540.7,1153.6 1544.7,1150.4 1548.9,1147.6 1551.8,1143.2 1556.3,1140.7 1560.0,1137.2 1563.5,1133.8 1567.4,1130.8 1570.3,1126.7 1574.6,1124.1 1578.0,1120.6 1581.3,1116.9 1584.9,1113.6 1588.9,1110.7 1592.7,1107.6 1596.3,1104.2 1600.0,1101.0 1603.7,1098.4 1607.3,1095.7 1610.9,1093.0 1614.7,1090.5 1618.3,1087.8 1621.0,1083.9 1625.0,1081.7 1628.8,1078.9 1631.7,1075.1 1636.1,1073.0 1639.9,1070.2 1643.0,1066.6 1646.2,1063.2 1650.0,1060.4 1653.7,1057.6 1657.2,1054.6 1661.1,1052.0 1663.9,1048.1 1667.9,1045.8 1671.4,1042.7 1675.0,1039.8 1678.2,1035.8 1682.0,1032.4 1685.8,1029.0 1689.1,1025.1 1693.3,1022.2 1696.7,1018.4 1700.0,1014.5 1703.9,1011.4 1706.4,1007.2 1710.3,1004.8 1713.0,1001.1 1716.9,998.7 1719.7,995.0 1723.0,991.9 1726.7,989.3 1729.4,985.6 1732.7,982.5 1737.1,980.7 1739.6,976.7 1743.4,974.1 1746.6,971.0 1750.0,968.0 1753.4,964.0 1757.1,960.3 1760.5,956.2 1762.8,951.3 1766.6,947.6 1769.5,941.8 1773.8,937.0 1777.6,933.5 1781.4,930.0 1785.0,926.4 1788.6,923.4 1792.1,920.3 1795.7,917.3 1798.3,913.4 1801.8,910.3 1805.8,906.3 1810.0,902.6 1813.9,899.3 1818.4,897.0 1823.7,896.2 1828.8,894.5 1837.1,893.0 1840.8,889.0 1845.3,886.1 1849.8,883.2 1853.3,880.1 1856.4,876.5 1860.0,873.5 1864.0,870.9 1867.6,866.8 1871.2,862.8 1874.4,858.4 1878.0,855.4 1881.3,852.3 1885.3,849.7 1887.6,845.3 1891.7,843.0 1895.1,839.8 1900.1,835.3 1905.5,831.5 1910.9,830.0 1915.9,827.3 1919.0,822.9 1922.6,818.9 1926.2,814.9 1928.6,808.8 1930.4,802.5 1934.2,799.6 1938.3,797.6 1942.6,795.7 1947.0,794.2 1952.4,790.3 1957.3,785.9 1962.6,784.0 1967.7,781.7 1971.1,778.2 1974.1,774.3 1978.1,771.4 1981.6,768.0 1984.5,764.0 1988.4,761.0 1994.2,758.7 2000.0,756.5 2003.6,752.9 2006.3,748.5 2009.2,744.4 2014.9,740.9 2019.5,736.1 2022.8,732.1 2025.8,727.8 2028.0,723.0 2032.2,719.0 2036.6,715.3 2040.0,710.5 2044.2,706.4 2048.6,702.4 2052.4,697.9 2055.9,694.4 2060.4,692.2 2063.8,688.5 2066.8,684.3 2070.8,680.8 2073.2,676.1 2076.9,672.3 2080.0,668.0 2082.5,664.0 2083.1,668.6 2083.6,673.1 2084.1,677.7 2085.2,682.2 2084.6,687.0 2086.4,691.4 2086.5,696.0 2089.2,691.7 2090.5,686.7 2092.9,682.3 2095.8,676.7 2100.1,672.0 2101.9,667.8 2105.2,664.6 2107.4,660.6 2114.6,656.4 2119.2,653.3 2122.9,649.2 2126.7,644.6 2130.2,639.8 2134.1,635.9 2138.5,632.6 2142.6,629.4 2146.8,626.3 2154.0,621.2" fill="none" stroke="#ff0000" stroke-width="9.5" stroke-linejoin="round" stroke-linecap="round"/>
<g font-family="Liberation Sans, Arial, sans-serif" font-weight="bold" font-size="100" fill="#000" text-anchor="end">
<text transform="translate(274.51,1665.92) scale(0.6716,0.7031)">0.0</text>
<text transform="translate(274.51,1438.42) scale(0.6716,0.7031)">0.5</text>
<text transform="translate(274.51,1210.92) scale(0.6716,0.7031)">1.0</text>
<text transform="translate(274.51,983.42) scale(0.6716,0.7031)">1.5</text>
<text transform="translate(274.51,755.92) scale(0.6716,0.7031)">2.0</text>
<text transform="translate(274.51,528.42) scale(0.6716,0.7031)">2.5</text>
<text transform="translate(274.51,300.92) scale(0.6716,0.7031)">3.0</text>
<text transform="translate(274.51,73.42) scale(0.6716,0.7031)">3.5</text>
</g>
<g font-family="Liberation Sans, Arial, sans-serif" font-weight="bold" font-size="100" fill="#000" text-anchor="middle">
<text transform="translate(334.79,1751.35) scale(0.6756,0.7050)">−0.5</text>
<text transform="translate(574.29,1751.35) scale(0.6756,0.7050)">0.0</text>
<text transform="translate(819.49,1751.35) scale(0.6756,0.7050)">0.5</text>
<text transform="translate(1065.49,1751.35) scale(0.6756,0.7050)">1.0</text>
<text transform="translate(1311.99,1751.35) scale(0.6756,0.7050)">1.5</text>
<text transform="translate(1558.49,1751.35) scale(0.6756,0.7050)">2.0</text>
<text transform="translate(1805.99,1751.35) scale(0.6756,0.7050)">2.5</text>
<text transform="translate(2053.49,1751.35) scale(0.6756,0.7050)">3.0</text>
<text transform="translate(2299.49,1751.35) scale(0.6756,0.7050)">3.5</text>
</g>
<text font-family="Liberation Sans, Arial, sans-serif" font-weight="bold" font-size="100" fill="#000" stroke="#000" stroke-width="1.12" transform="translate(763.21,1883.70) scale(0.8275,0.8957)">Potential applied (V vs SHE)</text>
<text font-family="Liberation Sans, Arial, sans-serif" font-weight="bold" font-size="100" fill="#000" stroke="#000" stroke-width="1.12" transform="translate(89.90,1115.90) rotate(-90) scale(0.8329,0.8957)">WE Current (A)</text>
<rect x="416.5" y="131" width="610.5" height="342.5" fill="#fff" stroke="#000" stroke-width="8" stroke-linejoin="round"/>
<rect x="421" y="173.8" width="160" height="8" fill="#00e000"/>
<text font-family="Liberation Sans, Arial, sans-serif" font-size="100" fill="#000" stroke="#000" stroke-width="1.43" transform="translate(594.27,201.90) scale(0.6854,0.6978)">SS(A) - Al(C)</text>
<rect x="421" y="259.0" width="160" height="8" fill="#ff8000"/>
<text font-family="Liberation Sans, Arial, sans-serif" font-size="100" fill="#000" stroke="#000" stroke-width="1.45" transform="translate(595.70,283.80) scale(0.6768,0.6913)">Al(A) - SS(C)</text>
<rect x="421" y="340.6" width="160" height="8" fill="#0000ff"/>
<text font-family="Liberation Sans, Arial, sans-serif" font-size="100" fill="#000" stroke="#000" stroke-width="1.45" transform="translate(595.70,368.80) scale(0.6825,0.6913)">Al(A) - Al(C)</text>
<rect x="421" y="422.9" width="160" height="8" fill="#ff0000"/>
<text font-family="Liberation Sans, Arial, sans-serif" font-size="100" fill="#000" stroke="#000" stroke-width="1.44" transform="translate(594.20,452.40) scale(0.6794,0.6957)">SS(A) - SS(C)</text>
</svg>
</body></html>
